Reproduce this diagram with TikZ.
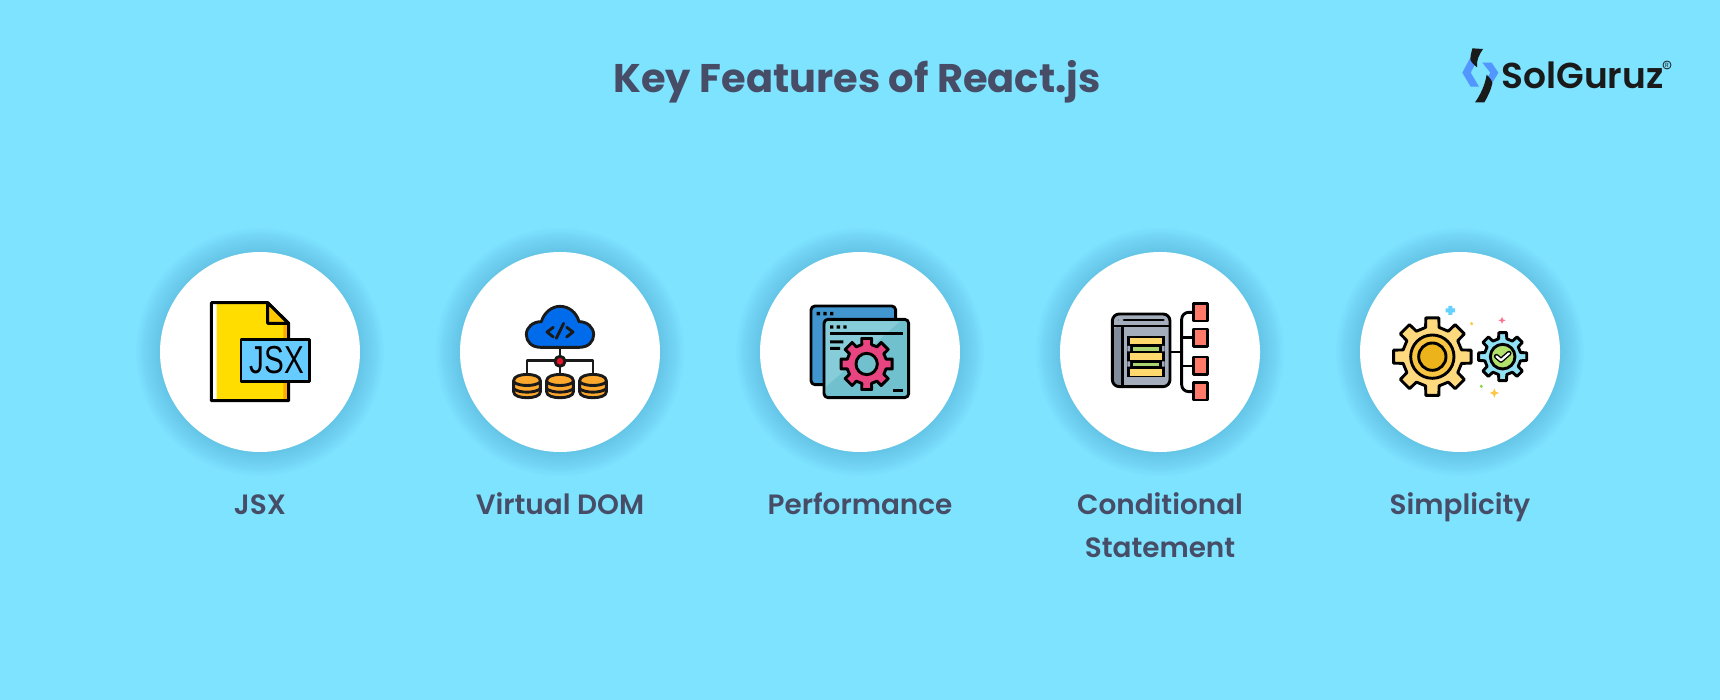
\documentclass[tikz,border=0pt]{standalone}
\usepackage{fontspec}
\setmainfont{Poppins}[BoldFont=Poppins SemiBold]
\newfontfamily\titlefont{Poppins}[UprightFont=* Bold]
\newfontfamily\jsxfont{Liberation Sans}
\usetikzlibrary{calc}
\definecolor{bgc}{HTML}{7DE3FF}
\definecolor{ink}{HTML}{474D66}
\definecolor{line}{HTML}{1A1A1A}
\definecolor{halo}{HTML}{1F6F9A}
\definecolor{docy}{HTML}{FFDD00}
\definecolor{doco}{HTML}{FFAA00}
\definecolor{docf}{HTML}{FFC800}
\definecolor{jsxb}{HTML}{66CCFF}
\definecolor{cloudb}{HTML}{006CEC}
\definecolor{dbo}{HTML}{FFA82E}
\definecolor{nodered}{HTML}{E8132B}
\definecolor{winb}{HTML}{4296CF}
\definecolor{wint}{HTML}{70C1CD}
\definecolor{winl}{HTML}{87CDD9}
\definecolor{gearp}{HTML}{E84480}
\definecolor{sq}{HTML}{FF7A69}
\definecolor{bookg}{HTML}{A4ADBB}
\definecolor{bookd}{HTML}{808C9B}
\definecolor{rowy}{HTML}{FFD86E}
\definecolor{rowg}{HTML}{AAD46E}
\definecolor{gy1}{HTML}{FFD97D}
\definecolor{gy2}{HTML}{F7C542}
\definecolor{gy3}{HTML}{EDB31A}
\definecolor{gb}{HTML}{91E1F5}
\definecolor{gg}{HTML}{B2E26B}
\definecolor{spb}{HTML}{66D1FF}
\definecolor{spy}{HTML}{FFC646}
\definecolor{spp}{HTML}{FF708C}
\definecolor{spg}{HTML}{8CD646}
\definecolor{logob}{HTML}{5296FF}
\tikzset{
  x=1pt,y=-1pt,
  titletext/.style={font=\fontsize{39.95}{50}\titlefont,text=ink,inner sep=0pt,anchor=base},
  labeltext/.style={font=\fontsize{27.9}{43}\selectfont\bfseries,text=ink,align=center,inner sep=0pt},
  ic/.style={draw=black,line width=2.9pt,line join=round,line cap=round},
  icb/.style={draw=line,line width=2.9pt,line join=round,line cap=round},
}
% gear outline: cx cy outer root teeth halfangle-tip halfangle-root
\newcommand{\gearo}[7]{%
  ($(#1,#2)+(#6:#3)$)
  \foreach \gi in {1,...,#5}{
    -- ($(#1,#2)+({(\gi-1)*360/#5+#7}:#4)$)
    -- ($(#1,#2)+({\gi*360/#5-#7}:#4)$)
    -- ($(#1,#2)+({\gi*360/#5-#6}:#3)$)
    -- ($(#1,#2)+({\gi*360/#5+#6}:#3)$)
  } -- cycle}
\newcommand{\halo}[2]{%
  \foreach \hr in {124,122,...,100}{
    \fill[halo,opacity=0.019] (#1,#2) circle (\hr);
  }
  \fill[white] (#1,#2) circle (100);}
\begin{document}
\begin{tikzpicture}
\useasboundingbox (0,0) rectangle (1720,700);
\fill[bgc] (0,0) rectangle (1720,700);

\node[titletext] (title) at (857,93) {Key Features of React.js};

% circles
\halo{260}{352}\halo{560}{352}\halo{860}{352}\halo{1160}{352}\halo{1460}{352}

% labels
\node[labeltext,anchor=base] (l1) at (260,514) {JSX};
\node[labeltext,anchor=base] (l2) at (560,514) {Virtual DOM};
\node[labeltext,anchor=base] (l3) at (860,514) {Performance};
\node[labeltext] (l4) at (1160,525) {Conditional\\Statement};
\node[labeltext,anchor=base] (l5) at (1460,514) {Simplicity};

% JSX icon
\begin{scope}[shift={(150,240)},x=0.3333pt,y=-0.3333pt]
  \fill[white] (184,188) rectangle (200,482);
  \fill[docy] (200,188) -- (353,188) -- (416,250) -- (416,482) -- (200,482) -- cycle;
  \fill[doco] (400,235) -- (416,250) -- (416,482) -- (400,482) -- cycle;
  \draw[ic,fill=docf] (353,188) -- (353,250) -- (416,250) -- cycle;
  \draw[ic] (184,188) -- (353,188) -- (416,250) -- (416,482) -- (184,482) -- cycle;
  \draw[ic,fill=jsxb] (273,298) rectangle (478,424);
  \node[font=\fontsize{39}{39}\jsxfont,text=black,inner sep=0pt,xscale=0.76,transform shape] (jsx) at (380,361) {JSX};
\end{scope}

% Virtual DOM icon
\begin{scope}[shift={(450,240)},x=0.3333pt,y=-0.3333pt]
  \draw[icb] (330,322) -- (330,405);
  \draw[icb] (231,405) -- (231,362) -- (429,362) -- (429,405);
  \draw[icb,fill=cloudb] (272,322) .. controls (245,322) and (229,305) .. (229,284)
     .. controls (229,262) and (248,245) .. (274,245)
     .. controls (282,218) and (305,199) .. (330,199)
     .. controls (357,199) and (380,218) .. (387,245)
     .. controls (412,245) and (431,262) .. (431,284)
     .. controls (431,305) and (415,322) .. (388,322) -- cycle;
  \draw[icb] (310,262) -- (291,276) -- (310,291);
  \draw[icb] (350,262) -- (369,276) -- (350,291);
  \draw[icb] (341,250) -- (319,295);
  \draw[icb,fill=nodered] (330,364) circle (15);
  \foreach \cx in {231,330,429}{
    \draw[icb,fill=dbo] (\cx-40,422) .. controls (\cx-40,397) and (\cx+40,397) .. (\cx+40,422)
       -- (\cx+40,456) .. controls (\cx+40,479) and (\cx-40,479) .. (\cx-40,456) -- cycle;
    \draw[icb] (\cx-40,426) .. controls (\cx-25,440) and (\cx+25,440) .. (\cx+40,426);
    \draw[icb] (\cx-40,446) .. controls (\cx-25,460) and (\cx+25,460) .. (\cx+40,446);
  }
\end{scope}

% Performance icon
\begin{scope}[shift={(750,240)},x=0.3333pt,y=-0.3333pt]
  \fill[winb,rounded corners=4pt] (183,198) rectangle (437,434);
  \draw[ic,rounded corners=4pt] (222,434) -- (183,434) -- (183,198) -- (437,198) -- (437,238);
  \fill[black] (200,216) rectangle (210,226) (220,216) rectangle (230,226) (240,216) rectangle (250,226);
  \fill[wint,rounded corners=4pt] (222,238) rectangle (476,473);
  \fill[winl] (228,440) -- (228,244) -- (450,244) -- cycle;
  \draw[ic,rounded corners=4pt] (222,238) rectangle (476,473);
  \fill[black] (240,256) rectangle (250,266) (260,256) rectangle (270,266) (280,256) rectangle (290,266);
  \fill[black] (240,276) rectangle (459,286);
  \fill[black] (240,301) rectangle (280,310) (240,321) rectangle (270,330);
  \fill[black] (430,447) rectangle (459,456);
  \draw[ic,fill=gearp] \gearo{350}{372}{78}{60}{8}{11}{14};
  \draw[ic,fill=wint] (350,372) circle (32);
\end{scope}

% Conditional icon
\begin{scope}[shift={(1050,240)},x=0.3333pt,y=-0.3333pt]
  \draw[ic] (360,336) -- (395,336);
  \draw[ic,rounded corners=7pt] (430,217) -- (395,217) -- (395,455) -- (430,455);
  \draw[ic] (395,292) -- (430,292);
  \draw[ic] (395,378) -- (430,378);
  \foreach \sy in {190,267,351,427}{
    \draw[ic,fill=sq] (431,\sy) rectangle (473,\sy+53);
  }
  \fill[bookg,rounded corners=7pt] (187,222) rectangle (360,440);
  \fill[bookd,rounded corners=5pt] (190,260) rectangle (218,437);
  \draw[ic,rounded corners=7pt] (187,222) rectangle (360,440);
  \draw[ic] (218,262) -- (218,440);
  \draw[ic] (190,258) -- (358,258);
  \draw[ic] (222,240) -- (340,240);
  \fill[bookd] (205,240) circle (3);
  \fill[black] (232,287) rectangle (344,412);
  \foreach \ry in {293,339,387}{
    \fill[rowy] (240,\ry) rectangle (336,\ry+20);
  }
  \foreach \ry in {322,368}{
    \fill[rowg] (250,\ry) rectangle (326,\ry+10);
  }
  \fill[bookg] (232,318) rectangle (240,334) (336,318) rectangle (344,334)
     (232,364) rectangle (240,380) (336,364) rectangle (344,380);
\end{scope}

% Simplicity icon
\begin{scope}[shift={(1350,240)},x=0.3333pt,y=-0.3333pt]
  \draw[ic,fill=gy1] \gearo{247}{350}{118}{90}{8}{9.5}{13};
  \draw[ic,fill=gy2] (247,350) circle (65);
  \draw[ic,fill=gy3] (247,350) circle (41);
  \draw[ic,fill=gb] \gearo{458}{350}{73}{55}{8}{9}{13};
  \draw[ic,fill=gg] (458,350) circle (37);
  \draw[line width=5pt,black,line cap=round,line join=round] (439,349) -- (453,361) -- (477,340);
  \draw[line width=2.2pt,white,line cap=round,line join=round] (439,349) -- (453,361) -- (477,340);
  \fill[spb] (295,198) rectangle (307,225) (287,205) rectangle (315,217);
  \fill[spy] (365,251) circle (5);
  \fill[spp] (456,230) -- (459,238) -- (467,241) -- (459,244) -- (456,252) -- (453,244) -- (445,241) -- (453,238) -- cycle;
  \fill[spg] (394,439) circle (5);
  \fill[spy] (433,445) -- (437,455) -- (447,459) -- (437,463) -- (433,474) -- (429,463) -- (419,459) -- (429,455) -- cycle;
\end{scope}

% logo mark
\begin{scope}[shift={(1455,40)},x=0.3333pt,y=-0.3333pt]
  \fill[logob] (45,55) -- (22,98) -- (47,140) -- (72,140) -- (47,98) -- (66,62) -- cycle;
  \fill[logob] (82,68) -- (110,68) -- (130,98) -- (105,140) -- (96,115) -- (106,98) -- cycle;
  \fill[line] (52,25) -- (84,27) .. controls (72,45) and (64,60) .. (66,82) .. controls (56,74) and (48,66) .. (46,58) .. controls (46,45) and (50,35) .. (52,25) -- cycle;
  \fill[line] (95,104) .. controls (104,114) and (112,122) .. (112,130) .. controls (108,150) and (98,170) .. (88,187) -- (60,187) .. controls (76,165) and (90,135) .. (95,104) -- cycle;
\end{scope}
% logo text
\begin{scope}[shift={(1440,30)},x=0.3333pt,y=-0.3333pt]
  \node[font=\fontsize{36}{36}\selectfont\bfseries,text=line,inner sep=0pt,anchor=base west] (logo) at (184,175) {SolGuruz};
  \draw[line,line width=0.8pt] (681,105) circle (12);
  \node[font=\fontsize{6}{6}\selectfont,text=line,inner sep=0pt] (reg) at (681,105) {R};
\end{scope}
\end{tikzpicture}
\end{document}
